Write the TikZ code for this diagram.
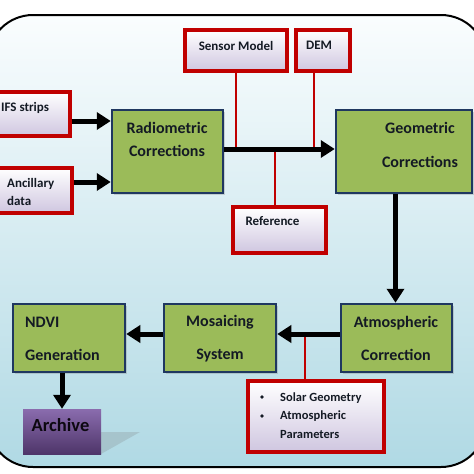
\documentclass[tikz,border=0pt]{standalone}
\usepackage{fontspec}
\setmainfont{Carlito}
\usetikzlibrary{arrows.meta,shadows}
\definecolor{navy}{HTML}{1F3760}
\definecolor{boxgreen}{HTML}{9BBB59}
\definecolor{boxred}{HTML}{C00000}
\definecolor{lav}{HTML}{CFC6E0}
\definecolor{txtc}{HTML}{141A24}
\definecolor{bgtop}{HTML}{FAFDFE}
\definecolor{bgbot}{HTML}{B0D9E4}
\definecolor{archl}{HTML}{8A6CAE}
\definecolor{archd}{HTML}{4E3569}
\begin{document}
\begin{tikzpicture}[x=1pt,y=-1pt,
  gbox/.style={draw=navy, line width=2.5pt, fill=boxgreen, drop shadow={opacity=0.3, shadow xshift=2pt, shadow yshift=-2pt}},
  rbox/.style={draw=boxred, line width=3.2pt, top color=white, bottom color=lav},
  txt/.style={font=\bfseries\fontsize{16}{16}\selectfont, text=txtc, inner sep=0pt},
  stxt/.style={font=\bfseries\fontsize{13}{13}\selectfont, text=txtc, inner sep=0pt},
  bigarrow/.style={line width=5pt, -{Triangle[length=14pt,width=17pt]}},
  redline/.style={draw=boxred, line width=1.8pt}
]
\useasboundingbox (0,0) rectangle (474,474);
% background
\draw[rounded corners=45pt, line width=2pt, top color=bgtop, bottom color=bgbot] (-12,15) rectangle (486,467);

% green process boxes
\node[gbox, minimum width=111pt, minimum height=83pt] (rad) at (167.5,151.5) {};
\node[gbox, minimum width=136pt, minimum height=83pt] (geo) at (404,151.5) {};
\node[gbox, minimum width=111pt, minimum height=68pt] (atm) at (396.5,338) {};
\node[gbox, minimum width=112pt, minimum height=68pt] (mos) at (220,338) {};
\node[gbox, minimum width=112pt, minimum height=68pt] (ndvi) at (69,338) {};

\node[txt, align=center, font=\bfseries\fontsize{16}{23}\selectfont] (radt) at (167,139) {Radiometric\\Corrections};
\node[txt, align=center, font=\bfseries\fontsize{16}{34}\selectfont] (geot) at (420,145) {Geometric\\Corrections};
\node[txt, align=center, font=\bfseries\fontsize{16}{33}\selectfont] (atmt) at (396,338.5) {Atmospheric\\Correction};
\node[txt, align=center, font=\bfseries\fontsize{16}{33}\selectfont] (most) at (220,338.5) {Mosaicing\\System};
\node[txt, align=left, anchor=west, font=\bfseries\fontsize{16}{33}\selectfont] (ndvit) at (25,338.5) {NDVI\\Generation};

% archive
\fill[gray!40!bgbot, opacity=0.6] (101,432) -- (140,432) -- (101,454) -- cycle;
\node[minimum width=78pt, minimum height=45pt, inner sep=0pt, left color=archl, right color=archd, shading angle=0] (arch) at (62,431.5) {};
\node[txt, font=\bfseries\fontsize{18.5}{18.5}\selectfont, text=black!85!archd] (archt) at (60.5,425) {Archive};

% red input boxes
\node[rbox, minimum width=80pt, minimum height=44pt] (ifs) at (30,114) {};
\node[rbox, minimum width=82pt, minimum height=45pt] (anc) at (31,190.5) {};
\node[rbox, minimum width=102pt, minimum height=41pt] (sensor) at (236,50.5) {};
\node[rbox, minimum width=54pt, minimum height=41pt] (dem) at (323,50.5) {};
\node[rbox, minimum width=93pt, minimum height=46pt] (ref) at (279.5,230) {};
\node[rbox, minimum width=136pt, minimum height=71pt] (solar) at (316,416.5) {};

\node[stxt, anchor=west] (ifst) at (1,108) {IFS strips};
\node[stxt, anchor=west, align=left, font=\bfseries\fontsize{13}{18}\selectfont] (anct) at (7,192) {Ancillary\\data};
\node[stxt] (sensort) at (236,46) {Sensor Model};
\node[stxt, anchor=west] (demt) at (306,45) {DEM};
\node[stxt] (reft) at (272.5,221) {Reference};
\node[stxt, anchor=west, align=left, font=\bfseries\fontsize{12.5}{18.5}\selectfont] (solart) at (280,415.5) {Solar Geometry\\Atmospheric\\Parameters};
\fill[txtc] (262,397) circle (1.8pt);
\fill[txtc] (262,416) circle (1.8pt);

% connectors
\draw[bigarrow] ([yshift=-7pt]ifs.east) -- ([yshift=-7pt]ifs.east -| rad.west);
\draw[bigarrow] ([yshift=8.5pt]anc.east) -- ([yshift=8.5pt]anc.east -| rad.west);
\coordinate (m) at ([yshift=2.5pt]rad.east);
\draw[redline] (sensor.south) -- (sensor.south |- m);
\coordinate (dm) at ([xshift=-9pt]dem.south);
\draw[redline] (dm) -- (dm |- m);
\coordinate (rf) at ([xshift=-4.5pt]ref.north);
\draw[redline] (rf) -- (rf |- m);
\draw[bigarrow] (m) -- (m -| geo.west);
\coordinate (g) at ([xshift=-8.5pt]geo.south);
\draw[bigarrow] (g) -- (g |- atm.north);
\coordinate (a) at ([yshift=4pt]atm.west);
\coordinate (s) at ([xshift=-11pt]solar.north);
\draw[redline] (s) -- (s |- a);
\draw[bigarrow] (a) -- (a -| mos.east);
\coordinate (ms) at ([yshift=4pt]mos.west);
\draw[bigarrow] (ms) -- (ms -| ndvi.east);
\draw[bigarrow] (arch.north |- ndvi.south) -- (arch.north);
\end{tikzpicture}
\end{document}
